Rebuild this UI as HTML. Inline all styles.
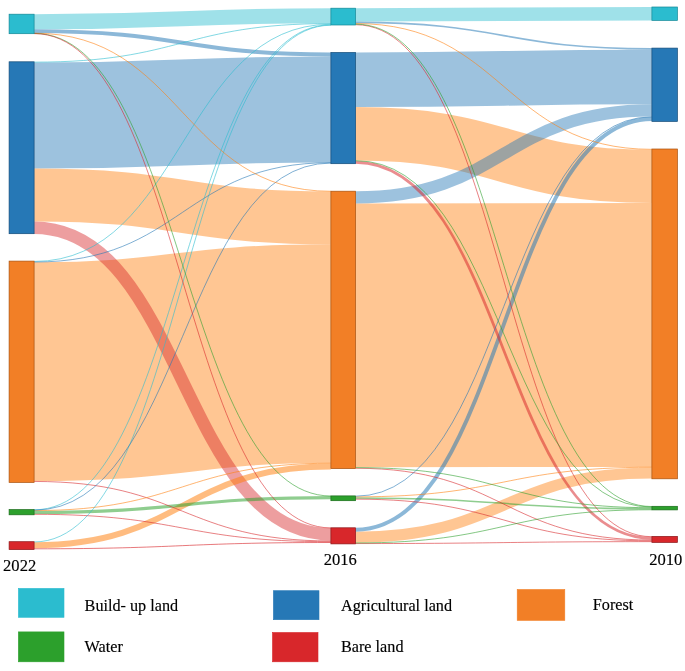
<!DOCTYPE html>
<html><head><meta charset="utf-8"><title>Sankey</title>
<style>
html,body{margin:0;padding:0;background:#fff;}
svg{display:block;}
text{font-family:"Liberation Serif",serif;fill:#000;stroke:#000;stroke-width:0.15px;}
.lg{font-size:16.2px;}
.yr{font-size:17.3px;}
</style></head><body>
<svg width="685" height="671" viewBox="0 0 685 671">
<rect width="685" height="671" fill="#fff"/>
<g fill="none">
<path d="M355.6,335.35C503.8,335.35 503.8,334.95 651.9,334.95" stroke="#ff8010" stroke-opacity="0.45" stroke-width="263.90"/>
<path d="M34.1,371.65C182.5,371.65 182.5,353.65 330.9,353.65" stroke="#ff8010" stroke-opacity="0.45" stroke-width="218.70"/>
<path d="M34.1,115.50C182.5,115.50 182.5,109.40 330.9,109.40" stroke="#2678b6" stroke-opacity="0.45" stroke-width="106.00"/>
<path d="M355.6,79.80C503.8,79.80 503.8,77.00 651.9,77.00" stroke="#2678b6" stroke-opacity="0.45" stroke-width="54.60"/>
<path d="M355.6,133.75C503.8,133.75 503.8,176.35 651.9,176.35" stroke="#ff8010" stroke-opacity="0.45" stroke-width="53.30"/>
<path d="M34.1,194.95C182.5,194.95 182.5,217.85 330.9,217.85" stroke="#ff8010" stroke-opacity="0.45" stroke-width="52.90"/>
<path d="M34.1,21.70C182.5,21.70 182.5,15.70 330.9,15.70" stroke="#2bbccf" stroke-opacity="0.45" stroke-width="15.00"/>
<path d="M355.6,14.90C503.8,14.90 503.8,13.70 651.9,13.70" stroke="#2bbccf" stroke-opacity="0.45" stroke-width="13.40"/>
<path d="M34.1,227.65C182.5,227.65 182.5,534.25 330.9,534.25" stroke="#d8272b" stroke-opacity="0.45" stroke-width="12.50"/>
<path d="M355.6,197.30C503.8,197.30 503.8,110.40 651.9,110.40" stroke="#2678b6" stroke-opacity="0.45" stroke-width="12.20"/>
<path d="M355.6,537.20C503.8,537.20 503.8,473.10 651.9,473.10" stroke="#ff8010" stroke-opacity="0.45" stroke-width="11.00"/>
<path d="M34.1,545.25C182.5,545.25 182.5,466.55 330.9,466.55" stroke="#ff8010" stroke-opacity="0.53" stroke-width="6.10"/>
<path d="M34.1,31.15C182.5,31.15 182.5,54.45 330.9,54.45" stroke="#2678b6" stroke-opacity="0.53" stroke-width="3.90"/>
<path d="M355.6,529.75C503.8,529.75 503.8,119.05 651.9,119.05" stroke="#2678b6" stroke-opacity="0.53" stroke-width="3.90"/>
<path d="M34.1,512.40C182.5,512.40 182.5,497.70 330.9,497.70" stroke="#2ca02c" stroke-opacity="0.53" stroke-width="3.20"/>
<path d="M355.6,162.35C503.8,162.35 503.8,538.35 651.9,538.35" stroke="#d8272b" stroke-opacity="0.53" stroke-width="2.70"/>
<path d="M355.6,22.40C503.8,22.40 503.8,48.90 651.9,48.90" stroke="#2678b6" stroke-opacity="0.53" stroke-width="1.60"/>
<path d="M355.6,497.95C503.8,497.95 503.8,508.75 651.9,508.75" stroke="#2ca02c" stroke-opacity="0.53" stroke-width="1.50"/>
<path d="M34.1,548.80C182.5,548.80 182.5,542.50 330.9,542.50" stroke="#d8272b" stroke-opacity="0.62" stroke-width="1.00"/>
<path d="M34.1,481.45C182.5,481.45 182.5,540.95 330.9,540.95" stroke="#d8272b" stroke-opacity="0.62" stroke-width="0.95"/>
<path d="M355.6,499.15C503.8,499.15 503.8,540.85 651.9,540.85" stroke="#d8272b" stroke-opacity="0.62" stroke-width="0.95"/>
<path d="M34.1,62.15C182.5,62.15 182.5,23.55 330.9,23.55" stroke="#2bbccf" stroke-opacity="0.62" stroke-width="0.95"/>
<path d="M34.1,261.45C182.5,261.45 182.5,24.25 330.9,24.25" stroke="#2bbccf" stroke-opacity="0.62" stroke-width="0.95"/>
<path d="M355.6,23.55C503.8,23.55 503.8,149.35 651.9,149.35" stroke="#ff8010" stroke-opacity="0.62" stroke-width="0.95"/>
<path d="M355.6,468.25C503.8,468.25 503.8,540.05 651.9,540.05" stroke="#d8272b" stroke-opacity="0.62" stroke-width="0.95"/>
<path d="M355.6,496.85C503.8,496.85 503.8,467.25 651.9,467.25" stroke="#ff8010" stroke-opacity="0.62" stroke-width="0.95"/>
<path d="M355.6,543.55C503.8,543.55 503.8,541.65 651.9,541.65" stroke="#d8272b" stroke-opacity="0.62" stroke-width="0.95"/>
<path d="M34.1,514.30C182.5,514.30 182.5,541.70 330.9,541.70" stroke="#d8272b" stroke-opacity="0.62" stroke-width="0.95"/>
<path d="M355.6,24.70C503.8,24.70 503.8,536.70 651.9,536.70" stroke="#d8272b" stroke-opacity="0.62" stroke-width="0.95"/>
<path d="M355.6,160.70C503.8,160.70 503.8,507.10 651.9,507.10" stroke="#2ca02c" stroke-opacity="0.62" stroke-width="0.95"/>
<path d="M355.6,467.60C503.8,467.60 503.8,507.70 651.9,507.70" stroke="#2ca02c" stroke-opacity="0.62" stroke-width="0.95"/>
<path d="M355.6,496.20C503.8,496.20 503.8,116.80 651.9,116.80" stroke="#2678b6" stroke-opacity="0.62" stroke-width="0.95"/>
<path d="M34.1,262.05C182.5,262.05 182.5,162.65 330.9,162.65" stroke="#2678b6" stroke-opacity="0.62" stroke-width="0.95"/>
<path d="M34.1,510.55C182.5,510.55 182.5,463.25 330.9,463.25" stroke="#ff8010" stroke-opacity="0.62" stroke-width="0.95"/>
<path d="M34.1,541.95C182.5,541.95 182.5,25.25 330.9,25.25" stroke="#2bbccf" stroke-opacity="0.62" stroke-width="0.95"/>
<path d="M355.6,24.15C503.8,24.15 503.8,506.55 651.9,506.55" stroke="#2ca02c" stroke-opacity="0.62" stroke-width="0.95"/>
<path d="M355.6,542.95C503.8,542.95 503.8,509.75 651.9,509.75" stroke="#2ca02c" stroke-opacity="0.62" stroke-width="0.95"/>
<path d="M34.1,509.80C182.5,509.80 182.5,24.80 330.9,24.80" stroke="#2bbccf" stroke-opacity="0.62" stroke-width="0.95"/>
<path d="M34.1,510.15C182.5,510.15 182.5,163.05 330.9,163.05" stroke="#2678b6" stroke-opacity="0.62" stroke-width="0.95"/>
<path d="M34.1,33.20C182.5,33.20 182.5,191.30 330.9,191.30" stroke="#ff8010" stroke-opacity="0.62" stroke-width="0.95"/>
<path d="M34.1,33.40C182.5,33.40 182.5,496.00 330.9,496.00" stroke="#2ca02c" stroke-opacity="0.62" stroke-width="0.95"/>
<path d="M34.1,33.60C182.5,33.60 182.5,527.90 330.9,527.90" stroke="#d8272b" stroke-opacity="0.62" stroke-width="0.95"/>
</g>
<g stroke-width="0.7">
<rect x="9.1" y="14.2" width="25.0" height="19.5" fill="#2bbccf" stroke="#128896"/>
<rect x="9.1" y="61.8" width="25.0" height="171.9" fill="#2678b6" stroke="#114a78"/>
<rect x="9.1" y="261.1" width="25.0" height="221.3" fill="#f27f26" stroke="#a8500c"/>
<rect x="9.1" y="509.6" width="25.0" height="5.2" fill="#2ca02c" stroke="#186a18"/>
<rect x="9.1" y="541.7" width="25.0" height="7.9" fill="#d8272b" stroke="#8c1518"/>
<rect x="330.9" y="8.2" width="24.7" height="16.8" fill="#2bbccf" stroke="#128896"/>
<rect x="330.9" y="52.5" width="24.7" height="111.2" fill="#2678b6" stroke="#114a78"/>
<rect x="330.9" y="191.2" width="24.7" height="277.4" fill="#f27f26" stroke="#a8500c"/>
<rect x="330.9" y="495.9" width="24.7" height="4.8" fill="#2ca02c" stroke="#186a18"/>
<rect x="330.9" y="527.8" width="24.7" height="16.1" fill="#d8272b" stroke="#8c1518"/>
<rect x="651.9" y="7.0" width="25.5" height="13.4" fill="#2bbccf" stroke="#128896"/>
<rect x="651.9" y="48.1" width="25.5" height="73.3" fill="#2678b6" stroke="#114a78"/>
<rect x="651.9" y="149.0" width="25.5" height="329.8" fill="#f27f26" stroke="#a8500c"/>
<rect x="651.9" y="506.3" width="25.5" height="3.6" fill="#2ca02c" stroke="#186a18"/>
<rect x="651.9" y="536.4" width="25.5" height="6.0" fill="#d8272b" stroke="#8c1518"/>
</g>
<rect x="18.4" y="588.4" width="45.6" height="28.9" fill="#2bbccf" stroke="#2bbccf" stroke-width="0.6"/>
<text x="84.6" y="611.0" class="lg">Build- up land</text>
<rect x="18.4" y="631.9" width="45.6" height="29.9" fill="#2ca02c" stroke="#2ca02c" stroke-width="0.6"/>
<text x="84.6" y="651.6" class="lg">Water</text>
<rect x="273.4" y="590.7" width="45.6" height="29.0" fill="#2678b6" stroke="#2678b6" stroke-width="0.6"/>
<text x="341.0" y="610.6" class="lg">Agricultural land</text>
<rect x="272.5" y="632.5" width="45.5" height="29.3" fill="#d8272b" stroke="#d8272b" stroke-width="0.6"/>
<text x="341.0" y="651.6" class="lg">Bare land</text>
<rect x="517.2" y="589.5" width="47.6" height="30.9" fill="#f27f26" stroke="#f27f26" stroke-width="0.6"/>
<text x="592.8" y="609.9" class="lg">Forest</text>
<text x="3.1" y="571.0" class="yr" textLength="33.1" lengthAdjust="spacingAndGlyphs">2022</text>
<text x="323.8" y="564.8" class="yr" textLength="33.1" lengthAdjust="spacingAndGlyphs">2016</text>
<text x="649.3" y="564.8" class="yr" textLength="33.1" lengthAdjust="spacingAndGlyphs">2010</text>
</svg>
</body></html>
